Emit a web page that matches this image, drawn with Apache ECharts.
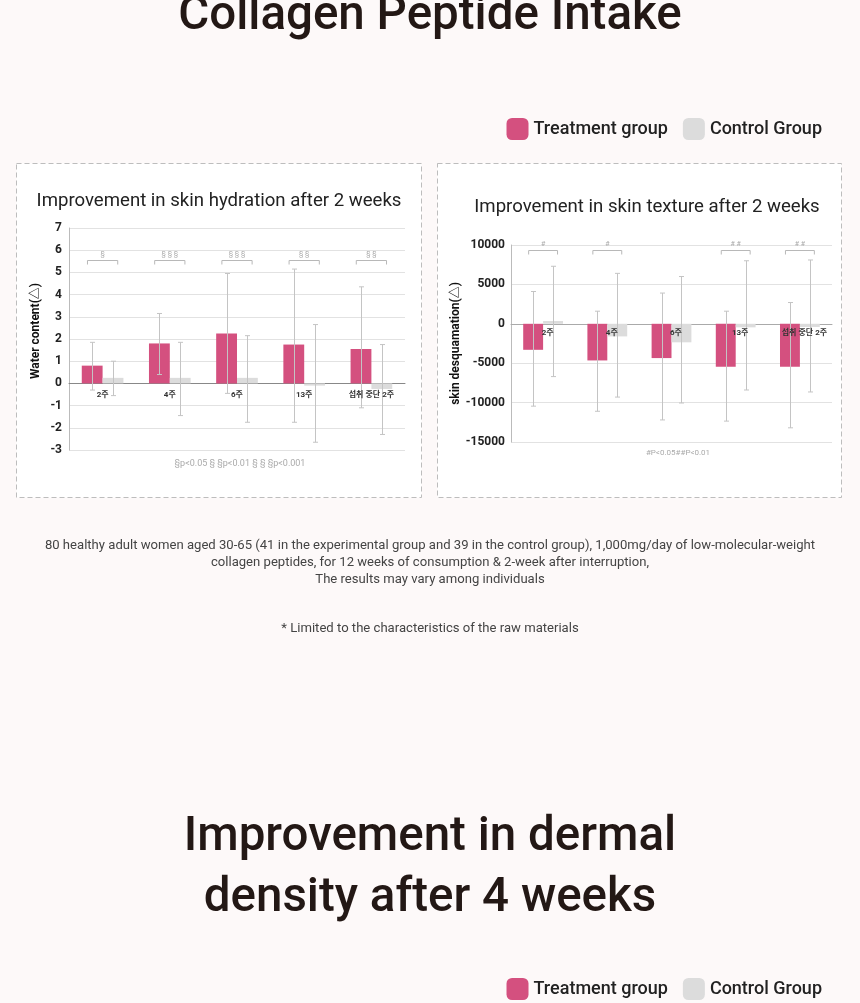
<!DOCTYPE html>
<html>
<head>
<meta charset="utf-8">
<script src="https://cdn.jsdelivr.net/npm/echarts@6/dist/echarts.min.js"></script>
<style>
html,body{margin:0;padding:0;background:#fdf9f9;}
#main{width:860px;height:1003px;}
</style>
</head>
<body>
<div id="main"></div>
<script>
// ---------- data ----------
const categories = ['2주', '4주', '6주', '13주', '섭취 중단 2주'];
const seriesNames = ['Treatment group', 'Control Group'];

// Chart 1: skin hydration (Water content Δ)
const hydrationTreatment = [0.8, 1.8, 2.25, 1.75, 1.55];
const hydrationControl = [0.25, 0.25, 0.25, -0.1, -0.25];
const hydrationTreatmentErrLow = [-0.3, 0.4, -0.45, -1.75, -1.1];
const hydrationTreatmentErrHigh = [1.85, 3.15, 4.95, 5.15, 4.35];
const hydrationControlErrLow = [-0.55, -1.45, -1.75, -2.65, -2.3];
const hydrationControlErrHigh = [1.0, 1.85, 2.15, 2.65, 1.75];
const hydrationSig = ['§', '§ § §', '§ § §', '§ §', '§ §'];
const hydrationSigLevel = 5.55;
const hydrationAxis = { min: -3, max: 7, interval: 1 };

// Chart 2: skin texture (skin desquamation Δ)
const textureTreatment = [-3300, -4650, -4350, -5450, -5450];
const textureControl = [350, -1600, -2350, -450, -400];
const textureTreatmentErrLow = [-10450, -11100, -12200, -12350, -13200];
const textureTreatmentErrHigh = [4100, 1600, 3900, 1600, 2700];
const textureControlErrLow = [-6700, -9300, -10050, -8400, -8650];
const textureControlErrHigh = [7300, 6400, 6000, 8000, 8100];
const textureSig = ['#', '#', '', '# #', '# #'];
const textureSigLevel = 9400;
const textureAxis = { min: -15000, max: 10000, interval: 5000 };

// ---------- styles ----------
const PINK = '#d4507f';
const GREY = '#dcdcdc';
const ERR = '#c4c4c4';
const FONT = 'Roboto, "Noto Sans", "Noto Sans CJK KR", sans-serif';
const BAR_RATIO = 0.31;

function errSeries(gridIdx, lows, highs, side) {
  return {
    type: 'custom',
    xAxisIndex: gridIdx, yAxisIndex: gridIdx,
    silent: true, z: 5,
    data: lows.map((l, i) => [i, l, highs[i]]),
    renderItem: function (params, api) {
      const i = api.value(0);
      const lo = api.coord([i, api.value(1)]);
      const hi = api.coord([i, api.value(2)]);
      const band = api.size([1, 0])[0];
      const x = Math.round(lo[0] + side * band * BAR_RATIO / 2) + 0.5;
      const st = { stroke: ERR, lineWidth: 1 };
      return {
        type: 'group',
        children: [
          { type: 'line', shape: { x1: x, y1: lo[1], x2: x, y2: hi[1] }, style: st },
          { type: 'line', shape: { x1: x - 2.5, y1: hi[1], x2: x + 2.5, y2: hi[1] }, style: st },
          { type: 'line', shape: { x1: x - 2.5, y1: lo[1], x2: x + 2.5, y2: lo[1] }, style: st }
        ]
      };
    }
  };
}

function sigSeries(gridIdx, labels, level) {
  return {
    type: 'custom',
    xAxisIndex: gridIdx, yAxisIndex: gridIdx,
    silent: true, z: 5,
    data: labels.map((t, i) => [i, level]),
    renderItem: function (params, api) {
      const i = params.dataIndex;
      const t = labels[i];
      if (!t) return null;
      const p = api.coord([i, api.value(1)]);
      const band = api.size([1, 0])[0];
      const hw = band * 0.225;
      const y = Math.round(p[1]) + 0.5;
      return {
        type: 'group',
        children: [
          { type: 'polyline', shape: { points: [[p[0] - hw, y + 4], [p[0] - hw, y], [p[0] + hw, y], [p[0] + hw, y + 4]] },
            style: { stroke: '#b8b8b8', lineWidth: 1, fill: null } },
          { type: 'text', x: p[0], y: y - 3,
            style: { text: t, textAlign: 'center', textVerticalAlign: 'bottom', fill: '#aaa', fontSize: 7, fontFamily: FONT } }
        ]
      };
    }
  };
}

// category labels drawn at the zero line
function catLabelSeries(gridIdx, dx, dy) {
  return {
    type: 'custom',
    xAxisIndex: gridIdx, yAxisIndex: gridIdx,
    silent: true, z: 6,
    data: categories.map((c, i) => [i, 0]),
    renderItem: function (params, api) {
      const p = api.coord([api.value(0), api.value(1)]);
      return {
        type: 'text', x: p[0] + dx, y: p[1] + dy,
        style: { text: categories[params.dataIndex], textAlign: 'center', textVerticalAlign: 'middle',
          fill: '#333', fontSize: 8, fontWeight: 'bold', fontFamily: FONT }
      };
    }
  };
}

const chart = echarts.init(document.getElementById('main'), null, { renderer: 'canvas' });

const yLabel = { color: '#222', fontSize: 12, fontWeight: 'bold', fontFamily: FONT, formatter: v => String(v) };
const yName = { color: '#111', fontSize: 12, fontWeight: 'bold', fontFamily: FONT };
const legendText = { fontSize: 18, fontWeight: 500, color: '#222', fontFamily: FONT };

const option = {
  backgroundColor: '#fdf9f9',
  animation: false,
  legend: [
    { data: seriesNames, top: 113, right: 33, itemWidth: 22, itemHeight: 22, itemGap: 15, icon: 'roundRect', selectedMode: false,
      textStyle: legendText },
    { data: seriesNames, top: 973, right: 33, itemWidth: 22, itemHeight: 22, itemGap: 15, icon: 'roundRect', selectedMode: false,
      textStyle: legendText }
  ],
  grid: [
    { left: 69, right: 455, top: 228, bottom: 553, containLabel: false },
    { left: 511, right: 28, top: 245, bottom: 561, containLabel: false }
  ],
  xAxis: [
    { type: 'category', gridIndex: 0, data: categories,
      axisLine: { onZero: true, lineStyle: { color: '#888' } }, axisTick: { show: false },
      axisLabel: { show: false } },
    { type: 'category', gridIndex: 1, data: categories,
      axisLine: { onZero: true, lineStyle: { color: '#aaa' } }, axisTick: { show: false },
      axisLabel: { show: false } }
  ],
  yAxis: [
    { type: 'value', gridIndex: 0, min: hydrationAxis.min, max: hydrationAxis.max, interval: hydrationAxis.interval,
      name: 'Water content(△)', nameLocation: 'middle', nameGap: 27,
      nameTextStyle: Object.assign({ padding: [0, 0, 0, 16] }, yName),
      axisLine: { show: true, lineStyle: { color: '#bbb' } }, axisTick: { show: false },
      axisLabel: Object.assign({ margin: 7 }, yLabel),
      splitLine: { lineStyle: { color: '#e2e2e2' } } },
    { type: 'value', gridIndex: 1, min: textureAxis.min, max: textureAxis.max, interval: textureAxis.interval,
      name: 'skin desquamation(△)', nameLocation: 'middle', nameGap: 45, nameTextStyle: yName,
      axisLine: { show: true, lineStyle: { color: '#bbb' } }, axisTick: { show: false },
      axisLabel: Object.assign({ margin: 6 }, yLabel),
      splitLine: { lineStyle: { color: '#e2e2e2' } } }
  ],
  series: [
    { name: seriesNames[0], type: 'bar', xAxisIndex: 0, yAxisIndex: 0, data: hydrationTreatment,
      barWidth: (BAR_RATIO * 100) + '%', barGap: '0%', itemStyle: { color: PINK } },
    { name: seriesNames[1], type: 'bar', xAxisIndex: 0, yAxisIndex: 0, data: hydrationControl,
      barWidth: (BAR_RATIO * 100) + '%', barGap: '0%', itemStyle: { color: GREY } },
    { name: seriesNames[0], type: 'bar', xAxisIndex: 1, yAxisIndex: 1, data: textureTreatment,
      barWidth: (BAR_RATIO * 100) + '%', barGap: '0%', itemStyle: { color: PINK } },
    { name: seriesNames[1], type: 'bar', xAxisIndex: 1, yAxisIndex: 1, data: textureControl,
      barWidth: (BAR_RATIO * 100) + '%', barGap: '0%', itemStyle: { color: GREY } },
    errSeries(0, hydrationTreatmentErrLow, hydrationTreatmentErrHigh, -1),
    errSeries(0, hydrationControlErrLow, hydrationControlErrHigh, 1),
    errSeries(1, textureTreatmentErrLow, textureTreatmentErrHigh, -1),
    errSeries(1, textureControlErrLow, textureControlErrHigh, 1),
    sigSeries(0, hydrationSig, hydrationSigLevel),
    sigSeries(1, textureSig, textureSigLevel),
    catLabelSeries(0, 0, 12),
    catLabelSeries(1, 4.5, 9)
  ],
  graphic: [
    { type: 'rect', z: -10, shape: { x: 16.5, y: 163.5, width: 405, height: 334 },
      style: { fill: '#fff', stroke: '#bdbdbd', lineWidth: 1, lineDash: [5, 3] } },
    { type: 'rect', z: -10, shape: { x: 437.5, y: 163.5, width: 404, height: 334 },
      style: { fill: '#fff', stroke: '#bdbdbd', lineWidth: 1, lineDash: [5, 3] } },
    { type: 'text', x: 430, y: 17, style: { text: 'Collagen Peptide Intake', textAlign: 'center', textVerticalAlign: 'middle',
      fontSize: 47.5, fontWeight: 500, fill: '#231815', fontFamily: FONT } },
    { type: 'text', x: 219, y: 201, style: { text: 'Improvement in skin hydration after 2 weeks', textAlign: 'center', textVerticalAlign: 'middle',
      fontSize: 18.6, fill: '#222', fontFamily: FONT } },
    { type: 'text', x: 647, y: 207, style: { text: 'Improvement in skin texture after 2 weeks', textAlign: 'center', textVerticalAlign: 'middle',
      fontSize: 18.6, fill: '#222', fontFamily: FONT } },
    { type: 'text', x: 240, y: 464, style: { text: '§p<0.05 § §p<0.01 § § §p<0.001', textAlign: 'center', textVerticalAlign: 'middle',
      fontSize: 9, fill: '#aaa', fontFamily: FONT } },
    { type: 'text', x: 678, y: 453, style: { text: '#P<0.05##P<0.01', textAlign: 'center', textVerticalAlign: 'middle',
      fontSize: 8, fill: '#aaa', fontFamily: FONT } },
    { type: 'text', x: 430, y: 546, style: { text: '80 healthy adult women aged 30-65 (41 in the experimental group and 39 in the control group), 1,000mg/day of low-molecular-weight', textAlign: 'center', textVerticalAlign: 'middle',
      fontSize: 13.1, fill: '#444', fontFamily: FONT } },
    { type: 'text', x: 430, y: 563, style: { text: 'collagen peptides, for 12 weeks of consumption & 2-week after interruption,', textAlign: 'center', textVerticalAlign: 'middle',
      fontSize: 13.1, fill: '#444', fontFamily: FONT } },
    { type: 'text', x: 430, y: 580, style: { text: 'The results may vary among individuals', textAlign: 'center', textVerticalAlign: 'middle',
      fontSize: 13.1, fill: '#444', fontFamily: FONT } },
    { type: 'text', x: 430, y: 629, style: { text: '* Limited to the characteristics of the raw materials', textAlign: 'center', textVerticalAlign: 'middle',
      fontSize: 13.1, fill: '#444', fontFamily: FONT } },
    { type: 'text', x: 430, y: 838, style: { text: 'Improvement in dermal', textAlign: 'center', textVerticalAlign: 'middle',
      fontSize: 47.5, fontWeight: 500, fill: '#231815', fontFamily: FONT } },
    { type: 'text', x: 430, y: 899, style: { text: 'density after 4 weeks', textAlign: 'center', textVerticalAlign: 'middle',
      fontSize: 47.5, fontWeight: 500, fill: '#231815', fontFamily: FONT } }
  ]
};
chart.setOption(option);
</script>
</body>
</html>
